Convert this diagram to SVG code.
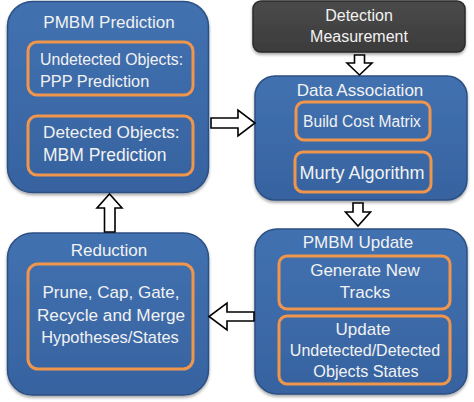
<svg xmlns="http://www.w3.org/2000/svg" width="474" height="402" viewBox="0 0 474 402">
<defs>
<linearGradient id="gBlue" x1="0" y1="0" x2="0" y2="1">
<stop offset="0" stop-color="#4271b0"/>
<stop offset="1" stop-color="#3763a0"/>
</linearGradient>
<linearGradient id="gGray" x1="0" y1="0" x2="0" y2="1">
<stop offset="0" stop-color="#4a4a4a"/>
<stop offset="1" stop-color="#3c3c3c"/>
</linearGradient>
<filter id="sh" x="-10%" y="-10%" width="120%" height="125%">
<feDropShadow dx="0" dy="2" stdDeviation="1.5" flood-color="#000" flood-opacity="0.35"/>
</filter>
</defs>
<style>
.outer{fill:url(#gBlue);stroke:#2c4f82;stroke-width:1.5;filter:url(#sh)}
.dark{fill:url(#gGray);stroke:#2a2a2a;stroke-width:1.5;filter:url(#sh)}
.inner{fill:none;stroke:#f0964c;stroke-width:3}
.t{font-family:"Liberation Sans",Arial,sans-serif;fill:#f2f2f2;text-anchor:middle}
.arrow{fill:#ffffff;stroke:#000000;stroke-width:1.6;stroke-linejoin:miter}
</style>
<rect width="474" height="402" fill="#ffffff"/>

<g id="pmbm-prediction">
<rect class="outer" x="7.5" y="1.5" width="201" height="191" rx="25"/>
<text class="t" x="109" y="28" font-size="17">PMBM Prediction</text>
<rect class="inner" x="28" y="42" width="165" height="53" rx="9"/>
<text class="t" x="40" y="65" font-size="15.8" style="text-anchor:start">Undetected Objects:</text>
<text class="t" x="40" y="87" font-size="16.3" style="text-anchor:start">PPP Prediction</text>
<rect class="inner" x="28" y="116" width="165" height="59" rx="9"/>
<text class="t" x="43" y="138" font-size="17.2" style="text-anchor:start">Detected Objects:</text>
<text class="t" x="43" y="161" font-size="17.5" style="text-anchor:start">MBM Prediction</text>
</g>

<g id="detection-measurement">
<rect class="dark" x="253" y="1" width="212" height="51" rx="8"/>
<text class="t" x="359" y="21" font-size="16">Detection</text>
<text class="t" x="359" y="42" font-size="16">Measurement</text>
</g>

<g id="data-association">
<rect class="outer" x="255" y="76" width="212" height="124" rx="20"/>
<text class="t" x="360" y="96" font-size="17">Data Association</text>
<rect class="inner" x="296" y="102" width="134" height="38" rx="8"/>
<text class="t" x="362" y="127" font-size="15.6">Build Cost Matrix</text>
<rect class="inner" x="295" y="152" width="136" height="40" rx="8"/>
<text class="t" x="362" y="179" font-size="18">Murty Algorithm</text>
</g>

<g id="pmbm-update">
<rect class="outer" x="255" y="229" width="212" height="165" rx="22"/>
<text class="t" x="358" y="248" font-size="17">PMBM Update</text>
<rect class="inner" x="279" y="256" width="171" height="53" rx="8"/>
<text class="t" x="365" y="276" font-size="17">Generate New</text>
<text class="t" x="365" y="298" font-size="17">Tracks</text>
<rect class="inner" x="279" y="316" width="171" height="68" rx="8"/>
<text class="t" x="363" y="335" font-size="17">Update</text>
<text class="t" x="365" y="356" font-size="16">Undetected/Detected</text>
<text class="t" x="366" y="377" font-size="16.2">Objects States</text>
</g>

<g id="reduction">
<rect class="outer" x="7.5" y="233" width="201" height="162" rx="25"/>
<text class="t" x="109" y="256" font-size="17">Reduction</text>
<rect class="inner" x="28" y="264" width="165" height="105" rx="10"/>
<text class="t" x="111" y="298" font-size="17">Prune, Cap, Gate,</text>
<text class="t" x="111" y="321" font-size="17.2">Recycle and Merge</text>
<text class="t" x="110" y="343" font-size="16.4">Hypotheses/States</text>
</g>

<g id="connectors">
<polygon class="arrow" points="211,118 238,118 238,110 255,123 238,136 238,128 211,128"/>
<polygon class="arrow" points="354.5,55 364.5,55 364.5,63 372,63 359.5,75 347,63 354.5,63"/>
<polygon class="arrow" points="353,203 363,203 363,212 370.5,212 358,226 345.5,212 353,212"/>
<polygon class="arrow" points="104.5,232 115,232 115,208 122,208 109.5,194 97,208 104.5,208"/>
<polygon class="arrow" points="254,312 227,312 227,303 209,316.5 227,330 227,321 254,321"/>
</g>
</svg>
